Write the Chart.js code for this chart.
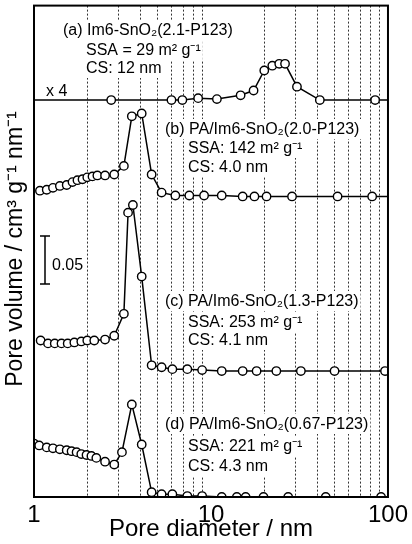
<!DOCTYPE html>
<html><head><meta charset="utf-8">
<script src="https://cdn.jsdelivr.net/npm/chart.js@4"></script>
<style>html,body{margin:0;background:#fff}#w{width:412px;height:544px}</style>
</head><body><div id="w"><canvas id="c"></canvas></div>
<script>
// Pore diameter (nm) and pore volume (1e-3 cm3 g-1 nm-1); offsets stack curves
const xA=[1.0,2.73,5.98,6.89,8.46,10.8,14.7,17.4,20.0,22.2,24.3,26.2,30.6,41.2,84.6,100];
const yA=[0,0,0,0,2,1,5,10,31,36,38,38,14,0,0,0]; // (a) x4
const xB=[1.08,1.18,1.28,1.40,1.53,1.65,1.76,1.88,2.00,2.14,2.28,2.52,2.84,3.22,3.57,4.06,4.62,5.26,6.29,7.54,9.14,11.5,15.1,17.6,20.6,28.7,51.9,81.4,100];
const yB=[6,7,9,11,12,15,17,18,20,21,22,22,23,32,84,87,23,4,1,1,1,1,0,0,0,0,0,0,0];
const xC=[1.09,1.20,1.31,1.43,1.55,1.69,1.85,2.00,2.19,2.52,2.84,3.22,3.40,3.62,4.06,4.62,5.26,6.05,7.35,8.91,11.5,15.1,18.1,23.4,32.2,49.9,96.2];
const yC=[32,29,29,29,29,30,31,32,32,33,37,60,166,174,99,6,4,2,2,1,0,0,0,0,0,0,0];
const xD=[1.0,1.07,1.18,1.28,1.40,1.53,1.63,1.74,1.85,1.98,2.11,2.25,2.52,2.84,3.14,3.57,4.06,4.62,5.26,6.05,7.35,8.91,11.5,14.0,15.7,19.8,27.3,44.5,91.4];
const yD=[56,54,52,51,50,49,48,47,45,44,43,41,37,34,47,97,55,5,3,3,1,1,0,0,0,0,0,0,0];
const offsets=[416,315,132,0];
const xTicks=[1,2,3,4,5,6,7,8,9,10,20,30,40,50,60,70,80,90,100];
const xLabels=[1,10,100];

function ds(xs,ys,off,noEnds){
  return {data:xs.map((x,i)=>({x:x,y:ys[i]+off})),borderColor:'#000',borderWidth:1.5,
    pointRadius:xs.map((x,i)=>noEnds&&(x===1||x===100)?0:4.2),pointBackgroundColor:'#fff',
    pointBorderColor:'#000',pointBorderWidth:1.4,tension:0};
}
const texts=[
 [63,35,'(a) Im6-SnO₂(2.1-P123)'],[86,55,'SSA = 29 m² g⁻¹'],[86,73,'CS: 12 nm'],
 [165,134,'(b) PA/Im6-SnO₂(2.0-P123)'],[188,153,'SSA: 142 m² g⁻¹'],[188,172,'CS: 4.0 nm'],
 [165,306,'(c) PA/Im6-SnO₂(1.3-P123)'],[188,327,'SSA: 253 m² g⁻¹'],[188,345,'CS: 4.1 nm'],
 [165,429,'(d) PA/Im6-SnO₂(0.67-P123)'],[188,451,'SSA: 221 m² g⁻¹'],[188,471,'CS: 4.3 nm'],
 [46,96,'x 4'],[52,270,'0.05']];
const F='"Liberation Sans", Arial';
const deco={id:'deco',
 beforeDatasetsDraw(ch){const c=ch.ctx;c.save();c.font='16px '+F;
  c.fillStyle='#fff';texts.forEach(t=>{const w=c.measureText(t[2]).width;c.fillRect(t[0]-2,t[1]-15,w+4,20);});c.restore();},
 afterDraw(ch){const c=ch.ctx,a=ch.chartArea;c.save();
  c.font='16px '+F;c.fillStyle='#000';
  texts.forEach(t=>c.fillText(t[2],t[0],t[1]));
  c.strokeStyle='#000';c.lineWidth=2;c.strokeRect(a.left,a.top,a.right-a.left,a.bottom-a.top);
  c.lineWidth=1.5;c.beginPath();c.moveTo(45,236);c.lineTo(45,284);c.moveTo(40,236);c.lineTo(50,236);c.moveTo(40,284);c.lineTo(50,284);c.stroke();
  c.font='23px '+F;c.translate(22,249);c.rotate(-Math.PI/2);c.textAlign='center';
  c.fillText('Pore volume / cm³ g⁻¹ nm⁻¹',0,0);c.restore();}};
new Chart(document.getElementById('c'),{type:'line',
 data:{datasets:[ds(xA,yA,offsets[0],true),ds(xB,yB,offsets[1],true),ds(xC,yC,offsets[2]),ds(xD,yD,offsets[3])]},
 options:{responsive:true,maintainAspectRatio:false,animation:false,
  layout:{padding:{top:0,right:16,left:0,bottom:0}},
  plugins:{legend:{display:false},tooltip:{enabled:false}},
  scales:{
   x:{type:'logarithmic',min:1,max:100,
    afterBuildTicks:s=>{s.ticks=xTicks.map(v=>({value:v}));},
    afterFit:s=>{s.height=47;},
    ticks:{autoSkip:false,maxRotation:0,color:'#000',font:{size:24,family:F},padding:4,
      callback:v=>xLabels.includes(v)?String(v):''},
    grid:{drawTicks:false,color:c=>xLabels.includes(c.tick&&c.tick.value)?'rgba(0,0,0,0)':'#333',lineWidth:1},
    border:{display:true,color:'#000',width:2,dash:[2,2]},
    title:{display:true,text:'Pore diameter / nm',color:'#000',font:{size:24,family:F},padding:{top:4,bottom:0}}},
   y:{min:0,max:515,afterFit:s=>{s.width=34;},ticks:{display:false},grid:{display:false},border:{display:false}}
  }},plugins:[deco]});
</script></body></html>
